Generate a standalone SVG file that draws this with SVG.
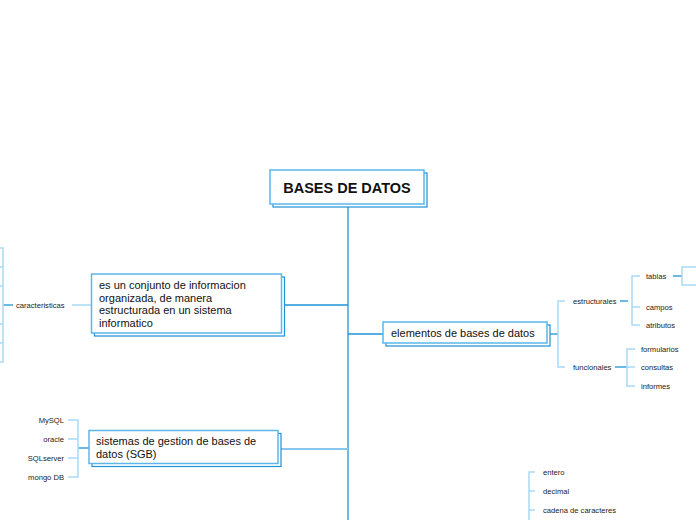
<svg xmlns="http://www.w3.org/2000/svg" width="696" height="520" viewBox="0 0 696 520">
<style>
.bg{fill:#ffffff}
.shadow{fill:#ffffff;stroke:#1f8fd6;stroke-width:1.2}
.box{fill:#ffffff;stroke:#5cb6ea;stroke-width:1.5}
.title{font-family:"Liberation Sans",Arial,sans-serif;font-weight:bold;font-size:14.5px;fill:#111111}
.main{font-family:"Liberation Sans",Arial,sans-serif;font-size:11px;fill:#111111}
.sub{font-family:"Liberation Sans",Arial,sans-serif;font-size:7.6px;fill:#222222}
.dark{fill:none;stroke:#1e93d8;stroke-width:1.3}
.light{fill:none;stroke:#a9d9f6;stroke-width:1.5}
.mid{fill:none;stroke:#86c8f0;stroke-width:2}
</style>
<rect class="bg" x="0" y="0" width="696" height="520"/>
<g id="connectors">
  <line class="dark" x1="348" y1="207" x2="348" y2="520"/>
  <line class="dark" x1="284" y1="305" x2="348" y2="305"/>
  <line class="dark" x1="348" y1="334" x2="383" y2="334"/>
  <line class="mid" x1="281" y1="449" x2="348" y2="449"/>
  <line class="light" x1="72" y1="305" x2="91" y2="305"/>
  <line class="dark" x1="3" y1="305" x2="13" y2="305"/>
  <path class="light" d="M0 248 H3 V362 H0 M0 267 H3 M0 286 H3 M0 324 H3 M0 343 H3"/>
  <line class="dark" x1="547" y1="334" x2="558" y2="334"/>
  <path class="light" d="M565 301 H558 V367 H565"/>
  <line class="dark" x1="620" y1="301" x2="628" y2="301"/>
  <path class="light" d="M640 276 H632 V325 H640 M632 307 H640"/>
  <line class="dark" x1="673" y1="276" x2="682" y2="276"/>
  <path class="light" d="M696 267 H682 V285 H696"/>
  <line class="dark" x1="615" y1="367" x2="627" y2="367"/>
  <path class="light" d="M635 349 H627 V386 H635 M627 367 H635"/>
  <line class="dark" x1="78" y1="448" x2="89" y2="448"/>
  <path class="light" d="M68 420 H78 V477 H68 M68 439 H78 M68 458 H78"/>
  <path class="light" d="M535 472 H529 V520 M529 491 H535 M529 510 H535"/>
</g>
<g id="node-title">
  <rect class="shadow" x="273" y="173" width="154" height="34"/>
  <rect class="box" x="270" y="170" width="154" height="34"/>
  <text class="title" x="347" y="192.5" text-anchor="middle">BASES DE DATOS</text>
</g>
<g id="node-definicion">
  <rect class="shadow" x="94.5" y="277" width="190" height="59"/>
  <rect class="box" x="91.5" y="274" width="190" height="59"/>
  <text class="main" x="99" y="289">es un conjunto de informacion</text>
  <text class="main" x="99" y="301.5">organizada, de manera</text>
  <text class="main" x="99" y="314">estructurada en un sistema</text>
  <text class="main" x="99" y="326.5">informatico</text>
</g>
<g id="node-caracteristicas">
  <text class="sub" x="16" y="307.5">caracteristicas</text>
</g>
<g id="node-elementos">
  <rect class="shadow" x="386" y="325" width="164" height="21"/>
  <rect class="box" x="383" y="322" width="164" height="21"/>
  <text class="main" x="391" y="336.5">elementos de bases de datos</text>
</g>
<g id="node-estructurales"><text class="sub" x="573" y="303.5">estructurales</text></g>
<g id="node-funcionales"><text class="sub" x="573" y="369.5">funcionales</text></g>
<g id="node-tablas"><text class="sub" x="646" y="278.5">tablas</text></g>
<g id="node-campos"><text class="sub" x="646" y="309.5">campos</text></g>
<g id="node-atributos"><text class="sub" x="646" y="327.5">atributos</text></g>
<g id="node-formularios"><text class="sub" x="641" y="351.5">formularios</text></g>
<g id="node-consultas"><text class="sub" x="641" y="369.5">consultas</text></g>
<g id="node-informes"><text class="sub" x="641" y="388.5">informes</text></g>
<g id="node-sgb">
  <rect class="shadow" x="92" y="433.5" width="189" height="33"/>
  <rect class="box" x="89" y="430.5" width="189" height="33"/>
  <text class="main" x="96" y="445">sistemas de gestion de bases de</text>
  <text class="main" x="96" y="458">datos (SGB)</text>
</g>
<g id="node-mysql"><text class="sub" x="64" y="422.5" text-anchor="end">MySQL</text></g>
<g id="node-oracle"><text class="sub" x="64" y="441.5" text-anchor="end">oracle</text></g>
<g id="node-sqlserver"><text class="sub" x="64" y="460.5" text-anchor="end">SQLserver</text></g>
<g id="node-mongodb"><text class="sub" x="64" y="479.5" text-anchor="end">mongo DB</text></g>
<g id="node-entero"><text class="sub" x="543" y="474.5">entero</text></g>
<g id="node-decimal"><text class="sub" x="543" y="493.5">decimal</text></g>
<g id="node-cadena"><text class="sub" x="543" y="512.5">cadena de caracteres</text></g>
</svg>
